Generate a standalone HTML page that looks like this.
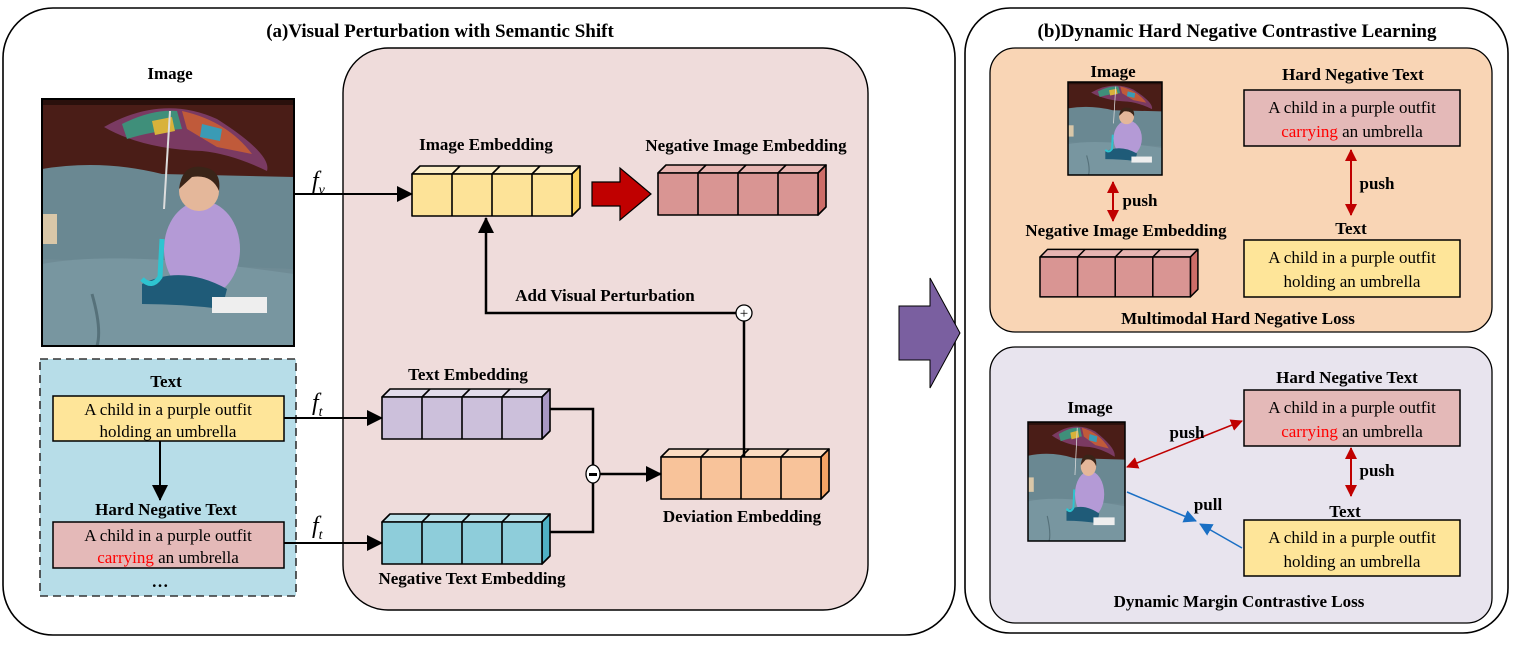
<!DOCTYPE html>
<html><head><meta charset="utf-8"><style>
html,body{margin:0;padding:0;background:#fff}
svg{display:block}
.b{font-weight:bold;font-size:17px}
.t{font-size:17px}
</style></head><body>
<svg width="1518" height="670" viewBox="0 0 1518 670" xmlns="http://www.w3.org/2000/svg" font-family="'Liberation Serif', 'Times New Roman', serif">
<defs>
<symbol id="photo" viewBox="0 0 252 247" preserveAspectRatio="none">
<rect width="252" height="247" fill="#6f8b95"/>
<rect width="252" height="110" fill="#4a1d17"/>
<rect x="0" y="0" width="252" height="6" fill="#2a100c"/>
<path d="M0 70 Q60 60 120 75 L252 78 L252 170 L0 160 Z" fill="#6a8892"/>
<path d="M0 165 Q80 150 252 175 L252 247 L0 247 Z" fill="#7896a0"/>
<path d="M50 195 Q60 230 55 247" stroke="#56717a" stroke-width="3" fill="none"/>
<path d="M62 28 Q120 -5 175 20 Q230 55 225 72 Q190 55 160 52 Q100 50 62 28 Z" fill="#7a3a62"/>
<path d="M80 25 Q110 10 135 12 L140 30 Q110 32 85 40Z" fill="#3f8f7a"/>
<path d="M140 12 Q185 22 210 55 L175 48 L145 30Z" fill="#c05a3a"/>
<path d="M110 22 L130 18 L133 32 L113 36Z" fill="#d8b23a"/>
<path d="M160 25 L180 30 L178 42 L158 38Z" fill="#3a9bb5"/>
<line x1="128" y1="12" x2="122" y2="110" stroke="#ddd" stroke-width="2"/>
<ellipse cx="160" cy="150" rx="38" ry="48" fill="#b49ad6"/>
<circle cx="157" cy="92" r="20" fill="#e4b79a"/>
<path d="M137 90 Q140 65 160 68 Q180 70 177 92 Q170 75 150 78Z" fill="#3a2418"/>
<path d="M100 185 Q140 165 185 190 L180 210 Q140 205 100 205Z" fill="#1f5b78"/>
<path d="M120 140 L118 178 Q110 190 100 180" stroke="#2ec4d0" stroke-width="5" fill="none"/>
<rect x="170" y="198" width="55" height="16" fill="#eee"/>
<rect x="0" y="115" width="15" height="30" fill="#d9c7a8"/>
</symbol>
<g id="cube" stroke="#000" stroke-width="1.6" stroke-linejoin="round">
<polygon points="0,0 8,-8 168,-8 160,0" style="fill:var(--tp)"/>
<polygon points="160,0 168,-8 168,34 160,42" style="fill:var(--sd)"/>
<rect x="0" y="0" width="160" height="42" style="fill:var(--fr)"/>
<path d="M40 0V42M80 0V42M120 0V42M40 0L48 -8M80 0L88 -8M120 0L128 -8" fill="none"/>
</g>
<marker id="ahb" markerWidth="16" markerHeight="16" refX="15" refY="8" orient="auto" markerUnits="userSpaceOnUse" viewBox="0 0 16 16"><path d="M0 0L16 8L0 16Z" fill="#000"/></marker>
<marker id="ar" markerWidth="12" markerHeight="12" refX="11" refY="6" orient="auto-start-reverse" markerUnits="userSpaceOnUse" viewBox="0 0 12 12"><path d="M0 0L12 6L0 12Z" fill="#c00000"/></marker>
<marker id="abl" markerWidth="13" markerHeight="13" refX="12" refY="6.5" orient="auto" markerUnits="userSpaceOnUse" viewBox="0 0 13 13"><path d="M0 0L13 6.5L0 13Z" fill="#1a6fc4"/></marker>
</defs>

<rect x="3" y="8" width="952" height="627" rx="50" fill="#fff" stroke="#000" stroke-width="1.6"/>
<text x="440" y="37" text-anchor="middle" font-weight="bold" font-size="19">(a)Visual Perturbation with Semantic Shift</text>
<rect x="343" y="48" width="525" height="562" rx="45" fill="#efdcdb" stroke="#000" stroke-width="1.4"/>

<text x="170" y="79" text-anchor="middle" class="b">Image</text>
<use href="#photo" x="42" y="99" width="252" height="247"/>
<rect x="42" y="99" width="252" height="247" fill="none" stroke="#000" stroke-width="2"/>

<rect x="40" y="359" width="256" height="237" fill="#b7dde8" stroke="#333" stroke-width="1.6" stroke-dasharray="8,5"/>
<text x="166" y="387" text-anchor="middle" class="b">Text</text>
<rect x="53" y="396" width="231" height="45" fill="#fee599" stroke="#000" stroke-width="1.5"/>
<text x="168" y="415" text-anchor="middle" class="t">A child in a purple outfit</text>
<text x="168" y="437" text-anchor="middle" class="t">holding an umbrella</text>
<line x1="160" y1="441" x2="160" y2="500" stroke="#000" stroke-width="2" marker-end="url(#ahb)"/>
<text x="166" y="515" text-anchor="middle" class="b">Hard Negative Text</text>
<rect x="53" y="522" width="231" height="46" fill="#e4b9b8" stroke="#000" stroke-width="1.5"/>
<text x="168" y="541" text-anchor="middle" class="t">A child in a purple outfit</text>
<text x="168" y="563" text-anchor="middle" class="t"><tspan fill="#ff0000">carrying</tspan> an umbrella</text>
<text x="160" y="587" text-anchor="middle" class="b">…</text>

<use href="#cube" x="412" y="174" style="--fr:#fde398;--tp:#fdefc8;--sd:#fcd35c"/>
<use href="#cube" x="658" y="173" style="--fr:#d99593;--tp:#e6b4b1;--sd:#cd6d68"/>
<use href="#cube" x="382" y="397" style="--fr:#ccc0db;--tp:#e2dcea;--sd:#a897c3"/>
<use href="#cube" x="382" y="522" style="--fr:#8ecdda;--tp:#bde2ea;--sd:#4fb0c4"/>
<use href="#cube" x="661" y="457" style="--fr:#f8c39a;--tp:#fbdcc2;--sd:#f4a365"/>
<text x="486" y="150" text-anchor="middle" class="b">Image Embedding</text>
<text x="746" y="151" text-anchor="middle" class="b">Negative Image Embedding</text>
<text x="468" y="380" text-anchor="middle" class="b">Text Embedding</text>
<text x="472" y="584" text-anchor="middle" class="b">Negative Text Embedding</text>
<text x="742" y="522" text-anchor="middle" class="b">Deviation Embedding</text>
<text x="605" y="301" text-anchor="middle" class="b">Add Visual Perturbation</text>

<line x1="294" y1="194" x2="412" y2="194" stroke="#000" stroke-width="2" marker-end="url(#ahb)"/>
<text x="312" y="188" font-size="24" font-style="italic">f<tspan font-size="14" dy="6">v</tspan></text>
<line x1="284" y1="418" x2="382" y2="418" stroke="#000" stroke-width="2" marker-end="url(#ahb)"/>
<text x="312" y="410" font-size="24" font-style="italic">f<tspan font-size="14" dy="6">t</tspan></text>
<line x1="284" y1="543" x2="382" y2="543" stroke="#000" stroke-width="2" marker-end="url(#ahb)"/>
<text x="312" y="533" font-size="24" font-style="italic">f<tspan font-size="14" dy="6">t</tspan></text>
<polygon points="592,182 620,182 620,168 651,194 620,220 620,206 592,206" fill="#c00000" stroke="#000" stroke-width="1.2"/>
<path d="M736 313H486V218" fill="none" stroke="#000" stroke-width="2.5" marker-end="url(#ahb)"/>
<path d="M744 457V321" stroke="#000" stroke-width="2.5"/>
<circle cx="744" cy="313" r="8" fill="#fff" stroke="#000" stroke-width="1.3"/>
<text x="744" y="318" text-anchor="middle" font-size="15">+</text>
<path d="M550 409H593V466M593 482V532H550" fill="none" stroke="#000" stroke-width="2.5"/>
<line x1="599" y1="474" x2="661" y2="474" stroke="#000" stroke-width="2.5" marker-end="url(#ahb)"/>
<ellipse cx="593" cy="474" rx="7" ry="9" fill="#fff" stroke="#000" stroke-width="1.3"/>
<rect x="589" y="473" width="8" height="3" fill="#000"/>

<polygon points="899,306 930,306 930,278 960,333 930,388 930,360 899,360" fill="#7a5fa0" stroke="#000" stroke-width="1"/>

<rect x="965" y="8" width="543" height="625" rx="45" fill="#fff" stroke="#000" stroke-width="1.6"/>
<text x="1237" y="37" text-anchor="middle" font-weight="bold" font-size="19">(b)Dynamic Hard Negative Contrastive Learning</text>

<rect x="990" y="48" width="502" height="284" rx="25" fill="#f9d5b5" stroke="#000" stroke-width="1.3"/>
<text x="1113" y="77" text-anchor="middle" class="b">Image</text>
<use href="#photo" x="1068" y="82" width="94" height="93"/>
<rect x="1068" y="82" width="94" height="93" fill="none" stroke="#000" stroke-width="1.5"/>
<line x1="1113" y1="182" x2="1113" y2="221" stroke="#c00000" stroke-width="2" marker-start="url(#ar)" marker-end="url(#ar)"/>
<text x="1140" y="206" text-anchor="middle" class="b">push</text>
<text x="1126" y="236" text-anchor="middle" class="b">Negative Image Embedding</text>
<use href="#cube" transform="translate(1040,257) scale(0.94,0.95)" style="--fr:#d99593;--tp:#e6b4b1;--sd:#cd6d68"/>
<text x="1353" y="80" text-anchor="middle" class="b">Hard Negative Text</text>
<rect x="1244" y="90" width="216" height="56" fill="#e4b9b8" stroke="#000" stroke-width="1.5"/>
<text x="1352" y="113" text-anchor="middle" class="t">A child in a purple outfit</text>
<text x="1352" y="137" text-anchor="middle" class="t"><tspan fill="#ff0000">carrying</tspan> an umbrella</text>
<line x1="1351" y1="150" x2="1351" y2="215" stroke="#c00000" stroke-width="2" marker-start="url(#ar)" marker-end="url(#ar)"/>
<text x="1377" y="189" text-anchor="middle" class="b">push</text>
<text x="1351" y="234" text-anchor="middle" class="b">Text</text>
<rect x="1244" y="240" width="216" height="57" fill="#fee599" stroke="#000" stroke-width="1.5"/>
<text x="1352" y="263" text-anchor="middle" class="t">A child in a purple outfit</text>
<text x="1352" y="287" text-anchor="middle" class="t">holding an umbrella</text>
<text x="1238" y="324" text-anchor="middle" class="b">Multimodal Hard Negative Loss</text>

<rect x="990" y="347" width="502" height="276" rx="25" fill="#e8e4ee" stroke="#000" stroke-width="1.3"/>
<text x="1090" y="413" text-anchor="middle" class="b">Image</text>
<use href="#photo" x="1028" y="422" width="97" height="119"/>
<rect x="1028" y="422" width="97" height="119" fill="none" stroke="#000" stroke-width="1.5"/>
<text x="1347" y="383" text-anchor="middle" class="b">Hard Negative Text</text>
<rect x="1244" y="390" width="216" height="56" fill="#e4b9b8" stroke="#000" stroke-width="1.5"/>
<text x="1352" y="413" text-anchor="middle" class="t">A child in a purple outfit</text>
<text x="1352" y="437" text-anchor="middle" class="t"><tspan fill="#ff0000">carrying</tspan> an umbrella</text>
<line x1="1351" y1="448" x2="1351" y2="496" stroke="#c00000" stroke-width="2" marker-start="url(#ar)" marker-end="url(#ar)"/>
<text x="1377" y="476" text-anchor="middle" class="b">push</text>
<text x="1345" y="517" text-anchor="middle" class="b">Text</text>
<rect x="1244" y="520" width="216" height="56" fill="#fee599" stroke="#000" stroke-width="1.5"/>
<text x="1352" y="543" text-anchor="middle" class="t">A child in a purple outfit</text>
<text x="1352" y="567" text-anchor="middle" class="t">holding an umbrella</text>
<line x1="1127" y1="467" x2="1242" y2="421" stroke="#c00000" stroke-width="1.5" marker-start="url(#ar)" marker-end="url(#ar)"/>
<text x="1187" y="438" text-anchor="middle" class="b">push</text>
<line x1="1127" y1="492" x2="1196" y2="521" stroke="#1a6fc4" stroke-width="1.5" marker-end="url(#abl)"/>
<line x1="1242" y1="548" x2="1200" y2="524" stroke="#1a6fc4" stroke-width="1.5" marker-end="url(#abl)"/>
<text x="1208" y="510" text-anchor="middle" class="b">pull</text>
<text x="1239" y="607" text-anchor="middle" class="b">Dynamic Margin Contrastive Loss</text>
</svg>
</body></html>
